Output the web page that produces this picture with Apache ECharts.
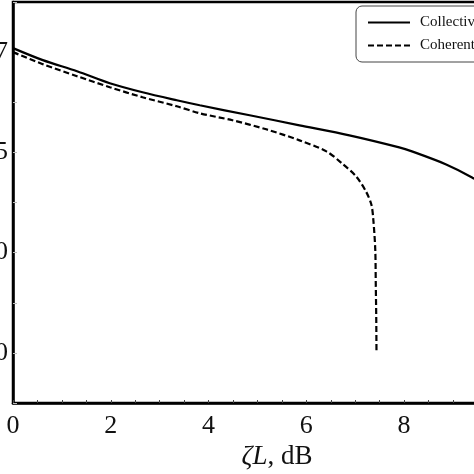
<!DOCTYPE html>
<html>
<head>
<meta charset="utf-8">
<script src="https://cdn.jsdelivr.net/npm/echarts@6/dist/echarts.min.js"></script>
<style>
html, body { margin: 0; padding: 0; background: #fff; }
#t1 { width: 474px; height: 474px; }
</style>
</head>
<body>
<div id="t1"></div>
<script>
// curves, x in dB
var solidX = [0, 0.61, 1.31, 1.98, 2.65, 3.35, 3.82, 4.84, 5.86, 6.88, 7.90, 8.16, 8.86, 9.39, 9.8];
var solidY = [3.04, 2.92, 2.81, 2.69, 2.60, 2.52, 2.47, 2.37, 2.27, 2.17, 2.05, 2.01, 1.88, 1.75, 1.62];

var dashX = [0, 0.61, 1.31, 1.98, 2.65, 3.35, 3.82, 4.49, 5.18, 5.86, 6.41, 6.73, 7.02, 7.22, 7.33, 7.37, 7.41, 7.42, 7.43, 7.435];
var dashY = [3.00, 2.88, 2.76, 2.65, 2.55, 2.46, 2.39, 2.32, 2.23, 2.12, 2.01, 1.89, 1.76, 1.61, 1.48, 1.33, 1.03, 0.70, 0.35, 0.00];

var seriesNames = ['Collective-mode memory', 'Coherent absorption'];
// y tick labels, bottom to top (only the last digit shows in the crop)
var yTickLabels = ['0.80', '0.90', '0.95', '0.97'];

function pairs(xs, ys) {
    return xs.map(function (x, i) { return [x, ys[i]]; });
}

var serif = 'Liberation Serif';

option = {
    animation: false,
    legend: {
        orient: 'vertical',
        left: 356,
        top: 6,
        padding: [9, 60, 9, 11],
        itemGap: 8,
        itemWidth: 42,
        itemHeight: 10,
        backgroundColor: '#fff',
        borderColor: '#444',
        borderWidth: 1,
        borderRadius: 6,
        itemStyle: {opacity: 0},
        textStyle: {
            fontFamily: serif,
            fontSize: 15,
            color: '#111',
            padding: [0, 0, 0, 5]
        },
        data: seriesNames
    },
    grid: {
        left: 13,
        top: 2,
        width: 528,
        height: 401,
        outerBoundsMode: 'none',
        containLabel: false,
        show: true,
        borderColor: '#000',
        borderWidth: 2.5
    },
    xAxis: {
        type: 'value',
        min: 0,
        max: 10.8,
        interval: 2,
        name: '{i|ζL}{n|, dB}',
        nameLocation: 'middle',
        nameGap: 38,
        nameTextStyle: {
            rich: {
                i: {fontFamily: serif, fontSize: 27, fontStyle: 'italic', color: '#111'},
                n: {fontFamily: serif, fontSize: 27, color: '#111'}
            }
        },
        axisLine: {onZero: false, lineStyle: {color: '#000', width: 2.5}},
        axisTick: {inside: true, length: 3, lineStyle: {color: '#444'}},
        minorTick: {show: true, splitNumber: 4, length: 3, lineStyle: {color: '#444'}},
        splitLine: {show: false},
        axisLabel: {
            fontFamily: serif,
            fontSize: 26,
            color: '#111',
            margin: 10,
            showMaxLabel: false
        }
    },
    yAxis: {
        type: 'value',
        min: -0.5,
        max: 3.5,
        interval: 0.5,
        axisLine: {onZero: false, lineStyle: {color: '#000', width: 2.5}},
        axisTick: {inside: true, length: 4, lineStyle: {color: '#bbb'}},
        splitLine: {show: false},
        axisLabel: {
            fontFamily: serif,
            fontSize: 26,
            color: '#111',
            margin: 5,
            formatter: function (v) {
                if (Number.isInteger(v) && v >= 0) return yTickLabels[v];
                return '';
            }
        }
    },
    series: [
        {
            name: seriesNames[0],
            type: 'line',
            symbol: 'none',
            smooth: 0.3,
            lineStyle: {color: '#000', width: 2.2},
            itemStyle: {color: '#000'},
            data: pairs(solidX, solidY)
        },
        {
            name: seriesNames[1],
            type: 'line',
            symbol: 'none',
            smooth: 0.3,
            lineStyle: {color: '#000', width: 2.2, type: [6, 3]},
            itemStyle: {color: '#000'},
            data: pairs(dashX, dashY)
        }
    ]
};
echarts.init(document.getElementById('t1')).setOption(option);
</script>
</body>
</html>
